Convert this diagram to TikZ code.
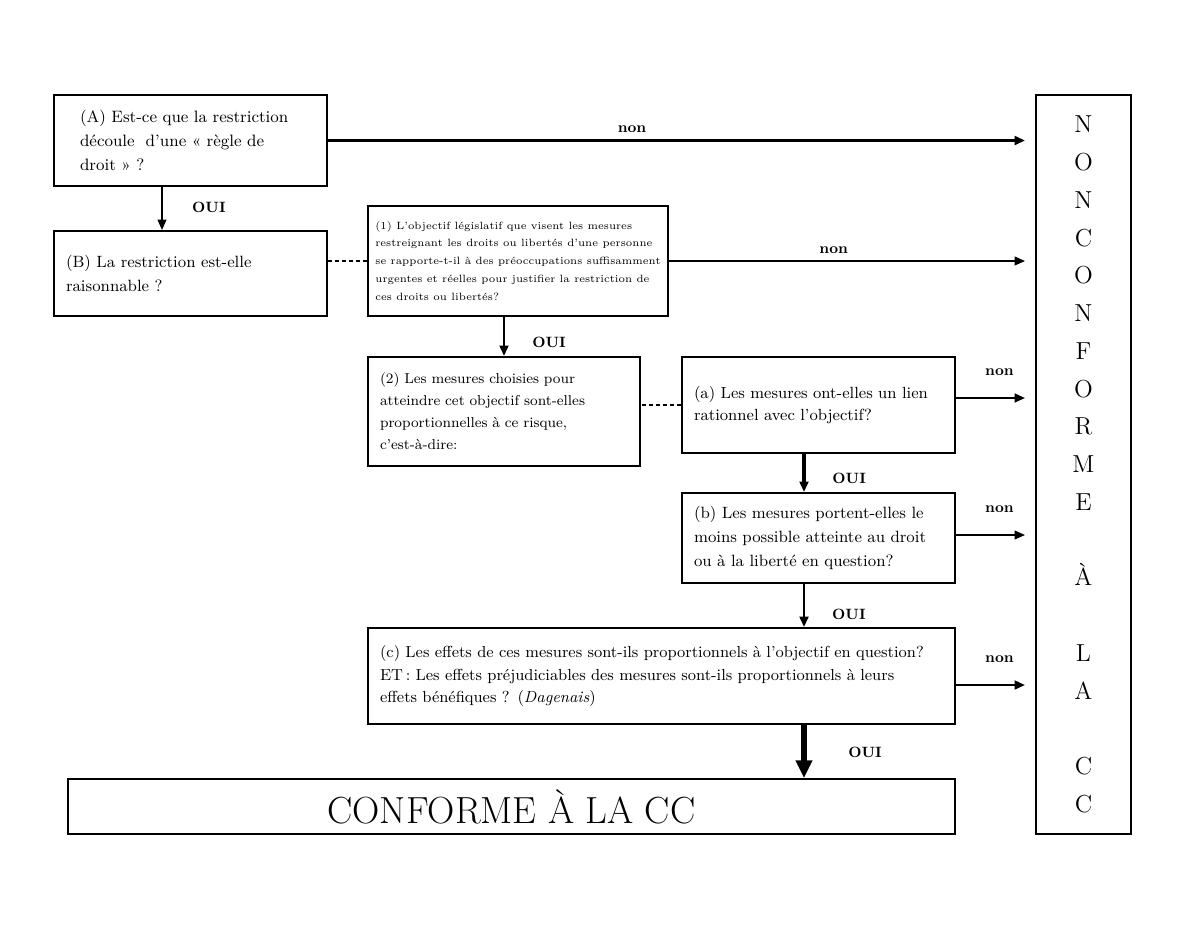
\documentclass[tikz,border=0pt]{standalone}
\usepackage{tikz}
\usetikzlibrary{positioning,calc,arrows.meta}

\tikzset{
  qbox/.style={draw, line width=1.1pt, align=left, inner ysep=0pt, inner xsep=0.24cm},
  lbl/.style={font=\bfseries\fontsize{8.5}{9}\selectfont, inner sep=1pt},
  yes/.style={-{Triangle[length=6pt,width=5pt]}},
  link/.style={dash pattern=on 2.5pt off 1.5pt, line width=1pt},
}

\begin{document}
\begin{tikzpicture}[x=0.02cm, y=-0.02cm]
  \useasboundingbox (0,0) rectangle (1200,927);
  \coordinate (hook) at (162,0);
  \coordinate (spine) at (804,0);

  % questions
  \node (A) [qbox, minimum width=5.46cm, minimum height=1.82cm, inner xsep=0.52cm, text width=4.42cm,
    font=\fontsize{9.4}{13.7}\selectfont] at (190.5,140.5)
    {(A) Est-ce que la restriction\\ découle\ \ d’une « règle de\\ droit » ?};
  \node (B) [qbox, minimum width=5.46cm, minimum height=1.70cm, text width=4.98cm,
    font=\fontsize{9.3}{13.7}\selectfont] at (190.5,273.5)
    {(B) La restriction est-elle\\ raisonnable ?};
  \node (obj) [qbox, minimum width=6.0cm, minimum height=2.2cm, inner xsep=0.12cm,
    font=\fontsize{6.0}{10.2}\selectfont] at (518,261)
    {(1) L'objectif législatif que visent les mesures\\ restreignant les droits ou libertés d'une personne\\
     se rapporte-t-il à des préoccupations suffisamment\\ urgentes et réelles pour justifier la restriction de\\
     ces droits ou libertés?};
  \node (prop) [qbox, minimum width=5.44cm, minimum height=2.18cm, text width=4.96cm,
    font=\fontsize{8.2}{12.5}\selectfont] at (504,411.5)
    {(2) Les mesures choisies pour\\ atteindre cet objectif sont-elles\\ proportionnelles à ce risque,\\ c'est-à-dire:};
  \node (lien) [qbox, minimum width=5.46cm, minimum height=1.92cm, text width=4.98cm,
    font=\fontsize{9.2}{12.5}\selectfont] at (818.5,405)
    {(a) Les mesures ont-elles un lien\\ rationnel avec l'objectif?};
  \node (moins) [qbox, minimum width=5.46cm, minimum height=1.80cm, text width=4.98cm,
    font=\fontsize{9.3}{13.7}\selectfont] at (818.5,538)
    {(b) Les mesures portent-elles le\\ moins possible atteinte au droit\\ ou à la liberté en question?};
  \node (effets) [qbox, minimum width=11.74cm, minimum height=1.92cm, text width=11.26cm,
    font=\fontsize{9.1}{13}\selectfont] at (661.5,676)
    {(c) Les effets de ces mesures sont-ils proportionnels à l'objectif en question?\\
     ET\,: Les effets préjudiciables des mesures sont-ils proportionnels à leurs\\
     effets bénéfiques ? (\textit{Dagenais})};

  % results
  \node (conf) [draw, line width=1.1pt, minimum width=17.74cm, minimum height=1.10cm,
    font=\fontsize{21.5}{24}\selectfont] at (511.5,806.5) {CONFORME À LA CC};
  \node (nonconf) [draw, line width=1.1pt, minimum width=1.90cm, minimum height=14.78cm, align=center,
    font=\fontsize{14}{21.5}\selectfont] at (1083.5,464.5)
    {N\\O\\N\\C\\O\\N\\F\\O\\R\\M\\E\\\strut\\À\\\strut\\L\\A\\\strut\\C\\C};

  % non
  \draw[yes, line width=1.5pt, shorten >=0.2cm] (A.east) --
    node[lbl, above=3pt, pos=0.43] {non} (A.east -| nonconf.west);
  \draw[yes, line width=1pt, shorten >=0.2cm] (obj.east) --
    node[lbl, above=3pt, pos=0.45] {non} (obj.east -| nonconf.west);
  \draw[yes, line width=1.3pt, shorten >=0.2cm] ($(lien.east)+(0,-7)$) --
    node[lbl, above=11pt, pos=0.55] {non} ($(lien.east -| nonconf.west)+(0,-7)$);
  \draw[yes, line width=1pt, shorten >=0.2cm] ($(moins.east)+(0,-3)$) --
    node[lbl, above=11pt, pos=0.55] {non} ($(moins.east -| nonconf.west)+(0,-3)$);
  \draw[yes, line width=1.4pt, shorten >=0.2cm] ($(effets.east)+(0,9)$) --
    node[lbl, above=11pt, pos=0.55] {non} ($(effets.east -| nonconf.west)+(0,9)$);

  % oui
  \draw[yes, line width=1.1pt] (A.south -| hook) --
    node[lbl, right=0.55cm, pos=0.47] {OUI} (B.north -| hook);
  \draw[yes, line width=1.7pt] (obj.south -| prop.north) --
    node[lbl, right=0.5cm, pos=0.66] {OUI} (prop.north);
  \draw[yes, line width=1.9pt] (lien.south -| spine) --
    node[lbl, right=0.5cm, pos=0.65] {OUI} (moins.north -| spine);
  \draw[yes, line width=1.6pt] (moins.south -| spine) --
    node[lbl, right=0.5cm, pos=0.71] {OUI} (effets.north -| spine);
  \draw[-{Triangle[length=10pt,width=9pt]}, line width=3pt] (effets.south -| spine) --
    node[lbl, right=0.8cm, pos=0.51] {OUI} (conf.north -| spine);

  % links
  \draw[link] (obj.west) -- (obj.west -| B.east);
  \draw[link] (lien.west) -- (lien.west -| prop.east);
\end{tikzpicture}
\end{document}
